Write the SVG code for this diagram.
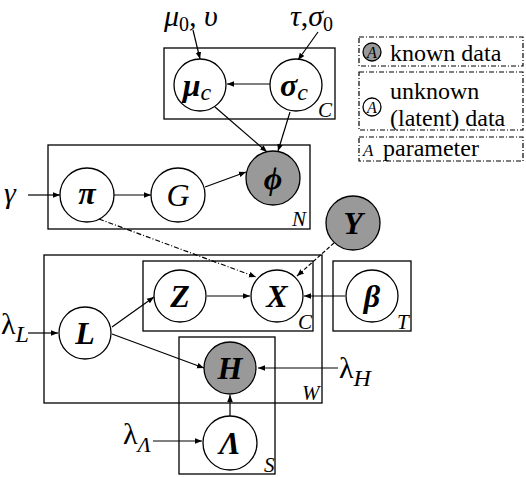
<svg xmlns="http://www.w3.org/2000/svg" width="526" height="477" viewBox="0 0 526 477">
<defs>
<marker id="ah" viewBox="0 0 10 10" refX="10" refY="5" markerWidth="7" markerHeight="7" orient="auto" markerUnits="userSpaceOnUse"><path d="M0,1 L10,5 L0,9 z" fill="#000"/></marker>
</defs>
<style>
.plate{fill:none;stroke:#000;stroke-width:1.3}
.leg{fill:none;stroke:#000;stroke-width:1.2;stroke-dasharray:5 2 1 2}
.n{fill:#fff;stroke:#000;stroke-width:1.3}
.k{fill:#999;stroke:#000;stroke-width:1.3}
.e{stroke:#000;stroke-width:1.2;fill:none;marker-end:url(#ah)}
text{font-family:"Liberation Serif","Times New Roman",serif}
</style>
<g id="plates">
<rect class="plate" x="164" y="48" width="171" height="71"/>
<rect class="plate" x="48" y="145" width="262" height="84"/>
<rect class="plate" x="44" y="255" width="278" height="148"/>
<rect class="plate" x="143" y="261" width="170" height="70"/>
<rect class="plate" x="333" y="261" width="78" height="70"/>
<rect class="plate" x="179" y="337" width="96" height="137"/>
<g font-style="italic" font-size="21">
<text x="318" y="117">C</text>
<text x="292" y="226">N</text>
<text x="302" y="400">W</text>
<text x="298" y="329">C</text>
<text x="397" y="329">T</text>
<text x="264" y="472">S</text>
</g>
</g>
<g id="connectors">
<line class="e" x1="193" y1="30" x2="200" y2="59"/>
<line class="e" x1="318" y1="32" x2="298" y2="60"/>
<line class="e" x1="270" y1="84" x2="227" y2="84"/>
<line class="e" x1="215" y1="107" x2="267" y2="152"/>
<line class="e" x1="290" y1="112" x2="278" y2="151"/>
<line class="e" x1="28" y1="195" x2="60" y2="195"/>
<line class="e" x1="114" y1="195" x2="151" y2="195"/>
<line class="e" x1="205" y1="187" x2="246" y2="172"/>
<line class="e" x1="99" y1="219" x2="256" y2="277" stroke-dasharray="5 2 1 2"/>
<line class="e" x1="334" y1="243" x2="297" y2="276" stroke-dasharray="4 2"/>
<line class="e" x1="207" y1="296" x2="250" y2="296"/>
<line class="e" x1="345" y1="296" x2="304" y2="296"/>
<line class="e" x1="28" y1="333" x2="58" y2="333"/>
<line class="e" x1="112" y1="327" x2="154" y2="297"/>
<line class="e" x1="112" y1="334" x2="204" y2="368"/>
<line class="e" x1="338" y1="368" x2="258" y2="368"/>
<line class="e" x1="153" y1="441" x2="202" y2="441"/>
<line class="e" x1="230" y1="416" x2="230" y2="395"/>
</g>
<g id="params" font-size="30">
<text x="164" y="26" font-style="italic">μ<tspan font-size="20" dy="5" font-style="normal">0</tspan><tspan dy="-5">, υ</tspan></text>
<text x="290" y="26" font-style="italic">τ<tspan font-style="normal">,</tspan>σ<tspan font-size="20" dy="5" font-style="normal">0</tspan></text>
<text x="4" y="203" font-style="italic">γ</text>
<text x="1" y="334">λ<tspan font-size="24" font-style="italic" dy="8">L</tspan></text>
<text x="339" y="378">λ<tspan font-size="24" font-style="italic" dy="8">H</tspan></text>
<text x="123" y="444">λ<tspan font-size="22" font-style="italic" dy="8">Λ</tspan></text>
</g>
<g font-weight="bold" font-style="italic" font-size="32" text-anchor="middle">
<g id="mu_c"><circle class="n" cx="200" cy="85" r="26"/><text x="197" y="96">μ<tspan font-weight="normal" font-size="24" dy="4">c</tspan></text></g>
<g id="sigma_c"><circle class="n" cx="296" cy="85" r="26"/><text x="294" y="96">σ<tspan font-weight="normal" font-size="24" dy="4">c</tspan></text></g>
<g id="pi"><circle class="n" cx="87" cy="195" r="27"/><text x="87" y="204">π</text></g>
<g id="G"><circle class="n" cx="178" cy="195" r="27"/><text x="178" y="206" font-weight="normal">G</text></g>
<g id="phi"><circle class="k" cx="273" cy="178" r="27"/><text x="273" y="189">ϕ</text></g>
<g id="Y"><circle class="k" cx="353" cy="223" r="27"/><text x="353" y="234">Y</text></g>
<g id="Z"><circle class="n" cx="180" cy="296" r="26"/><text x="180" y="307">Z</text></g>
<g id="X"><circle class="n" cx="277" cy="296" r="26"/><text x="277" y="307">X</text></g>
<g id="beta"><circle class="n" cx="372" cy="296" r="26"/><text x="372" y="307">β</text></g>
<g id="L"><circle class="n" cx="85" cy="333" r="26"/><text x="85" y="344">L</text></g>
<g id="H"><circle class="k" cx="230" cy="368" r="26"/><text x="230" y="379">H</text></g>
<g id="Lambda"><circle class="n" cx="230" cy="443" r="27"/><text x="230" y="454">Λ</text></g>
</g>
<g id="legend" font-size="24">
<rect class="leg" x="359" y="37" width="164" height="29"/>
<circle class="k" cx="372" cy="52" r="9"/><text x="372" y="58" font-size="16" font-style="italic" text-anchor="middle">A</text>
<text x="390" y="61">known data</text>
<rect class="leg" x="359" y="72" width="164" height="58"/>
<circle class="n" cx="372" cy="107" r="9"/><text x="372" y="113" font-size="16" font-style="italic" text-anchor="middle">A</text>
<text x="390" y="99">unknown</text>
<text x="390" y="126">(latent) data</text>
<rect class="leg" x="359" y="137" width="164" height="24"/>
<text x="363" y="156" font-size="17" font-style="italic">A</text>
<text x="383" y="156">parameter</text>
</g>
</svg>
